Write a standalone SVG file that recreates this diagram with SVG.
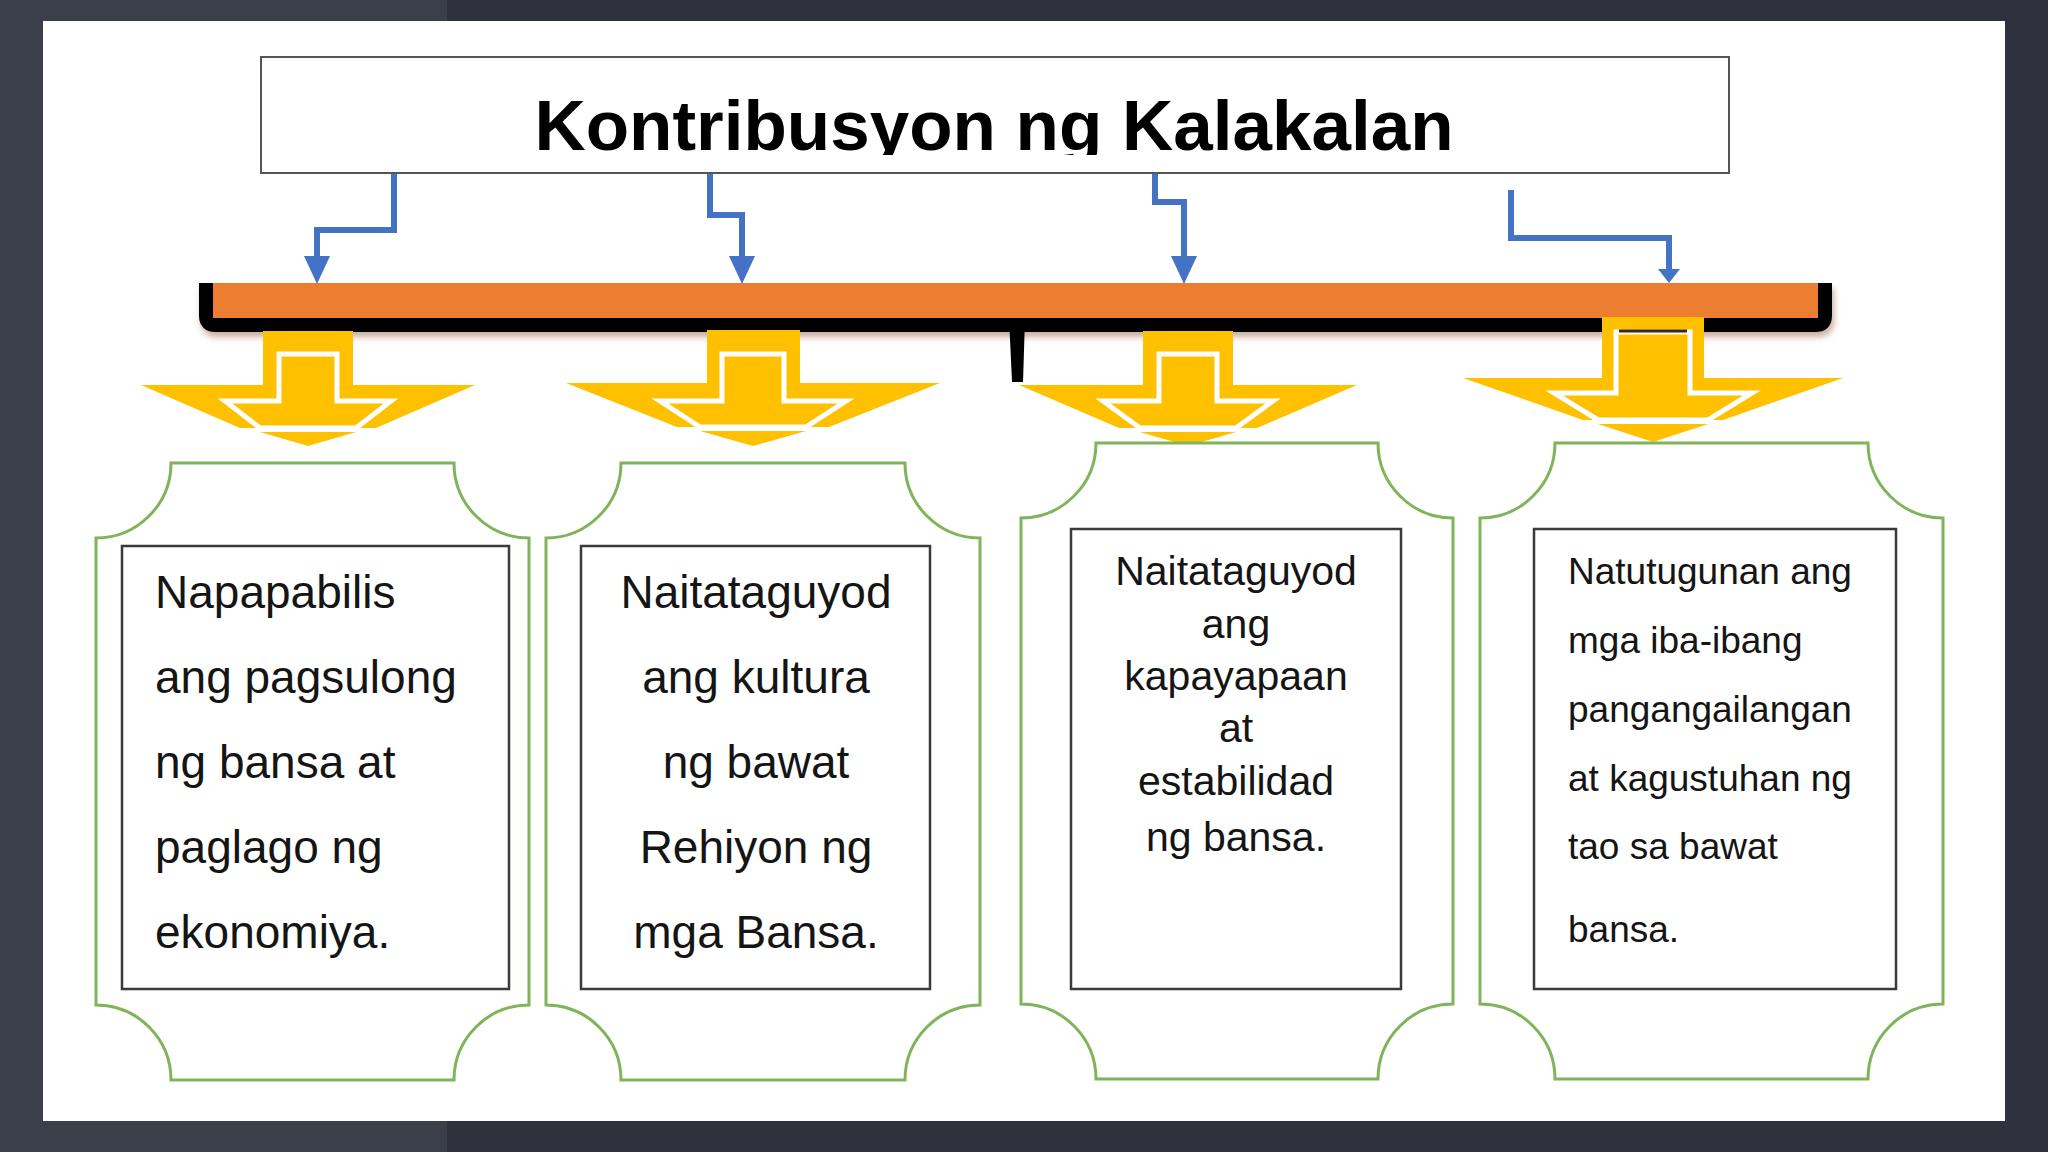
<svg xmlns="http://www.w3.org/2000/svg" width="2048" height="1152" viewBox="0 0 2048 1152">
<defs>
<style>
.txt{font-family:"Liberation Sans",Arial,sans-serif;fill:#151515}
.title{font-family:"Liberation Sans",Arial,sans-serif;font-weight:bold;fill:#000;font-size:71px}
.frame{fill:#fff;stroke:#7fb45a;stroke-width:3}
.inner{fill:#fff;stroke:#3a3a3a;stroke-width:2.5}
.conn{fill:none;stroke:#4472C4;stroke-width:6}
.yo{fill:#FFC000}
.yi{fill:#FFC000;stroke:#fff;stroke-width:5;stroke-linejoin:miter}
.b1{font-size:46px}
.b3{font-size:41px}
.b4{font-size:37px}
</style>
<marker id="ah" markerUnits="userSpaceOnUse" markerWidth="28" markerHeight="26" viewBox="0 0 28 26" refX="1" refY="13" orient="auto">
<path d="M0,0 L28,13 L0,26 Z" fill="#4472C4"/>
</marker>
<marker id="ah2" markerUnits="userSpaceOnUse" markerWidth="14" markerHeight="22" viewBox="0 0 14 22" refX="1" refY="11" orient="auto">
<path d="M0,0 L14,11 L0,22 Z" fill="#4472C4"/>
</marker>
<filter id="sh" x="-5%" y="-50%" width="110%" height="200%">
<feDropShadow dx="2" dy="5" stdDeviation="3" flood-color="#8a4a2a" flood-opacity="0.45"/>
</filter>
<clipPath id="tclip"><rect x="262" y="59" width="1466" height="96"/></clipPath>
</defs>

<rect x="0" y="0" width="2048" height="1152" fill="#2f323d"/>
<rect x="0" y="0" width="447" height="1152" fill="#3b3f4a"/>
<rect x="43" y="21" width="1962" height="1100" fill="#ffffff"/>

<g id="title">
<rect x="261" y="57" width="1468" height="116" fill="#fff" stroke="#555" stroke-width="2"/>
<text class="title" x="994" y="150" text-anchor="middle" clip-path="url(#tclip)">Kontribusyon ng Kalakalan</text>
</g>

<g id="bar">
<path d="M206,283 V316 Q206,325 215,325 H1816 Q1825,325 1825,316 V283" fill="none" stroke="#000" stroke-width="14" filter="url(#sh)"/>
<polygon points="1009,318 1025,318 1023,382 1012,382" fill="#000"/>
<rect x="213" y="283" width="1605" height="35" fill="#ED7D31"/>
</g>

<g id="connectors">
<path class="conn" d="M394,174 V230 H317 V257" marker-end="url(#ah)"/>
<path class="conn" d="M710,174 V215 H742 V257" marker-end="url(#ah)"/>
<path class="conn" d="M1155,174 V202 H1184 V257" marker-end="url(#ah)"/>
<path class="conn" d="M1511,190 V238 H1669 V270" marker-end="url(#ah2)"/>
</g>

<g id="arrow1">
<path class="yo" d="M263,331 H353 V385 H475 L376,428 H240 L141,385 H263 Z"/>
<path class="yi" d="M279,401 V354 H337 V401 H391 L356,428 H260 L225,401 Z"/>
<path class="yo" d="M260,432 H356 L308,446 Z"/>
</g>
<g id="arrow2">
<path class="yo" d="M707,330 H800 V383 H940 L829,427 H677 L566,383 H707 Z"/>
<path class="yi" d="M722,401 V354 H784 V401 H846 L806,427 H700 L660,401 Z"/>
<path class="yo" d="M700,431 H806 L753,446 Z"/>
</g>
<g id="arrow3">
<path class="yo" d="M1143,331 H1233 V385 H1357 L1257,428 H1119 L1019,385 H1143 Z"/>
<path class="yi" d="M1159,401 V354 H1217 V401 H1273 L1236,428 H1140 L1103,401 Z"/>
<path class="yo" d="M1140,432 H1236 L1188,446 Z"/>
</g>
<g id="arrow4">
<path class="yo" d="M1602,317 H1704 V378 H1843 L1723,420 H1583 L1463,378 H1602 Z"/>
<path class="yi" d="M1616,393 V332 H1690 V393 H1752 L1708,420 H1598 L1554,393 Z"/>
<path class="yo" d="M1598,424 H1708 L1653,442 Z"/>
<path d="M1619,331 H1687" stroke="#3a2a10" stroke-width="3"/>
</g>

<g id="box1">
<path class="frame" d="M171,463 H454 A75,75 0 0 0 529,538 V1005 A75,75 0 0 0 454,1080 H171 A75,75 0 0 0 96,1005 V538 A75,75 0 0 0 171,463 Z"/>
<rect class="inner" x="122" y="546" width="387" height="443"/>
<text class="txt b1" x="155" y="608">Napapabilis</text>
<text class="txt b1" x="155" y="693">ang pagsulong</text>
<text class="txt b1" x="155" y="778">ng bansa at</text>
<text class="txt b1" x="155" y="863">paglago ng</text>
<text class="txt b1" x="155" y="948">ekonomiya.</text>
</g>

<g id="box2">
<path class="frame" d="M621,463 H905 A75,75 0 0 0 980,538 V1005 A75,75 0 0 0 905,1080 H621 A75,75 0 0 0 546,1005 V538 A75,75 0 0 0 621,463 Z"/>
<rect class="inner" x="581" y="546" width="349" height="443"/>
<text class="txt b1" x="756" y="608" text-anchor="middle">Naitataguyod</text>
<text class="txt b1" x="756" y="693" text-anchor="middle">ang kultura</text>
<text class="txt b1" x="756" y="778" text-anchor="middle">ng bawat</text>
<text class="txt b1" x="756" y="863" text-anchor="middle">Rehiyon ng</text>
<text class="txt b1" x="756" y="948" text-anchor="middle">mga Bansa.</text>
</g>

<g id="box3">
<path class="frame" d="M1096,443 H1378 A75,75 0 0 0 1453,518 V1004 A75,75 0 0 0 1378,1079 H1096 A75,75 0 0 0 1021,1004 V518 A75,75 0 0 0 1096,443 Z"/>
<rect class="inner" x="1071" y="529" width="330" height="460"/>
<text class="txt b3" x="1236" y="585" text-anchor="middle">Naitataguyod</text>
<text class="txt b3" x="1236" y="638" text-anchor="middle">ang</text>
<text class="txt b3" x="1236" y="690" text-anchor="middle">kapayapaan</text>
<text class="txt b3" x="1236" y="742" text-anchor="middle">at</text>
<text class="txt b3" x="1236" y="795" text-anchor="middle">estabilidad</text>
<text class="txt b3" x="1236" y="851" text-anchor="middle">ng bansa.</text>
</g>

<g id="box4">
<path class="frame" d="M1555,443 H1868 A75,75 0 0 0 1943,518 V1004 A75,75 0 0 0 1868,1079 H1555 A75,75 0 0 0 1480,1004 V518 A75,75 0 0 0 1555,443 Z"/>
<rect class="inner" x="1534" y="529" width="362" height="460"/>
<text class="txt b4" x="1568" y="584">Natutugunan ang</text>
<text class="txt b4" x="1568" y="653">mga iba-ibang</text>
<text class="txt b4" x="1568" y="722">pangangailangan</text>
<text class="txt b4" x="1568" y="791">at kagustuhan ng</text>
<text class="txt b4" x="1568" y="859">tao sa bawat</text>
<text class="txt b4" x="1568" y="942">bansa.</text>
</g>
</svg>
